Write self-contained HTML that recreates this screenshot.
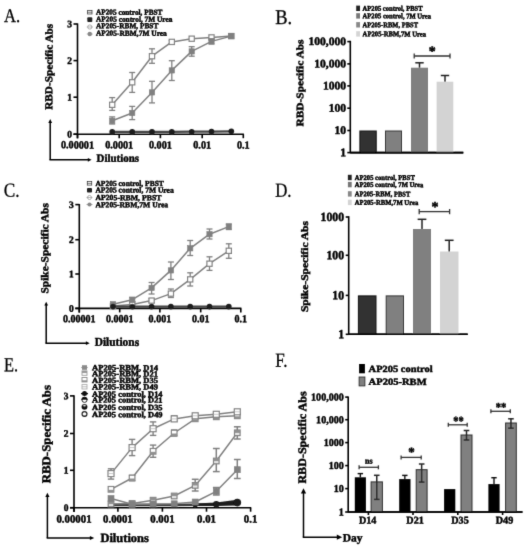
<!DOCTYPE html>
<html><head><meta charset="utf-8"><title>Figure</title>
<style>
html,body{margin:0;padding:0;background:#fff;}
svg{display:block;font-family:"Liberation Serif","DejaVu Serif",serif;}
</style></head>
<body>
<svg width="530" height="550" viewBox="0 0 530 550">
<defs><filter id="soft" filterUnits="userSpaceOnUse" x="0" y="0" width="530" height="550"><feConvolveMatrix order="3" kernelMatrix="0.01134 0.08382 0.01134 0.08382 0.61935 0.08382 0.01134 0.08382 0.01134" divisor="1" edgeMode="duplicate" preserveAlpha="false"/></filter></defs>
<rect x="0" y="0" width="530" height="550" fill="#ffffff"/>
<g filter="url(#soft)">
<text x="4.0" y="22.1" font-size="19.5" font-weight="normal" text-anchor="start" fill="#000" textLength="16.2" lengthAdjust="spacingAndGlyphs" stroke="#000" stroke-width="0.3" transform="matrix(1 0.002 0 1 0 -0.0080)" >A.</text>
<text x="96.0" y="14.6" font-size="7.6" font-weight="bold" text-anchor="start" fill="#000" textLength="66.4" lengthAdjust="spacingAndGlyphs" stroke="#000" stroke-width="0.45" transform="matrix(1 0.002 0 1 0 -0.1920)" >AP205 control, PBST</text>
<text x="96.0" y="21.6" font-size="7.6" font-weight="bold" text-anchor="start" fill="#000" textLength="76.4" lengthAdjust="spacingAndGlyphs" stroke="#000" stroke-width="0.45" transform="matrix(1 0.002 0 1 0 -0.1920)" >AP205 control, 7M Urea</text>
<text x="96.0" y="28.2" font-size="7.6" font-weight="bold" text-anchor="start" fill="#000" textLength="62.3" lengthAdjust="spacingAndGlyphs" stroke="#000" stroke-width="0.45" transform="matrix(1 0.002 0 1 0 -0.1920)" >AP205-RBM, PBST</text>
<text x="96.0" y="35.6" font-size="7.6" font-weight="bold" text-anchor="start" fill="#000" textLength="70.8" lengthAdjust="spacingAndGlyphs" stroke="#000" stroke-width="0.45" transform="matrix(1 0.002 0 1 0 -0.1920)" >AP205-RBM,7M Urea</text>
<rect x="87.60" y="10.40" width="4.40" height="3.60" fill="#fff" stroke="#333" stroke-width="0.8"/>
<line x1="87.6" y1="12.2" x2="92.0" y2="12.2" stroke="#333" stroke-width="0.7" />
<rect x="87.3" y="17.3" width="5.0" height="4.6" rx="0.9" fill="#222"/>
<circle cx="89.80" cy="27.00" r="2.1" fill="#fff" stroke="#999" stroke-width="0.8"/>
<line x1="86.8" y1="27.0" x2="92.8" y2="27.0" stroke="#999" stroke-width="0.7" />
<circle cx="89.80" cy="34.00" r="2.2" fill="#888" stroke="none" stroke-width="1"/>
<line x1="86.8" y1="34.0" x2="92.8" y2="34.0" stroke="#888" stroke-width="0.7" />
<line x1="77.5" y1="23.4" x2="77.5" y2="138.39999999999998" stroke="#000" stroke-width="1.6" />
<line x1="73.5" y1="134.2" x2="243.9" y2="134.2" stroke="#000" stroke-width="1.6" />
<line x1="73.5" y1="24.0" x2="77.5" y2="24.0" stroke="#000" stroke-width="1.6" />
<text x="71.9" y="27.3" font-size="10" font-weight="bold" text-anchor="end" fill="#000" textLength="4.75" lengthAdjust="spacingAndGlyphs" stroke="#000" stroke-width="0.45" transform="matrix(1 0.002 0 1 0 -0.1438)" >3</text>
<line x1="73.5" y1="60.6" x2="77.5" y2="60.6" stroke="#000" stroke-width="1.6" />
<text x="71.9" y="63.9" font-size="10" font-weight="bold" text-anchor="end" fill="#000" textLength="4.75" lengthAdjust="spacingAndGlyphs" stroke="#000" stroke-width="0.45" transform="matrix(1 0.002 0 1 0 -0.1438)" >2</text>
<line x1="73.5" y1="97.2" x2="77.5" y2="97.2" stroke="#000" stroke-width="1.6" />
<text x="71.9" y="100.5" font-size="10" font-weight="bold" text-anchor="end" fill="#000" textLength="4.75" lengthAdjust="spacingAndGlyphs" stroke="#000" stroke-width="0.45" transform="matrix(1 0.002 0 1 0 -0.1438)" >1</text>
<line x1="73.5" y1="134.2" x2="77.5" y2="134.2" stroke="#000" stroke-width="1.6" />
<text x="71.9" y="137.5" font-size="10" font-weight="bold" text-anchor="end" fill="#000" textLength="4.75" lengthAdjust="spacingAndGlyphs" stroke="#000" stroke-width="0.45" transform="matrix(1 0.002 0 1 0 -0.1438)" >0</text>
<line x1="77.5" y1="134.2" x2="77.5" y2="138.2" stroke="#000" stroke-width="1.6" />
<text x="77.5" y="148.4" font-size="10.8" font-weight="bold" text-anchor="middle" fill="#000" textLength="33.17" lengthAdjust="spacingAndGlyphs" stroke="#000" stroke-width="0.45" transform="matrix(1 0.002 0 1 0 -0.1550)" >0.00001</text>
<line x1="119.2" y1="134.2" x2="119.2" y2="138.2" stroke="#000" stroke-width="1.6" />
<text x="119.2" y="148.4" font-size="10.8" font-weight="bold" text-anchor="middle" fill="#000" textLength="28.07" lengthAdjust="spacingAndGlyphs" stroke="#000" stroke-width="0.45" transform="matrix(1 0.002 0 1 0 -0.2384)" >0.0001</text>
<line x1="160.4" y1="134.2" x2="160.4" y2="138.2" stroke="#000" stroke-width="1.6" />
<text x="160.4" y="148.4" font-size="10.8" font-weight="bold" text-anchor="middle" fill="#000" textLength="22.96" lengthAdjust="spacingAndGlyphs" stroke="#000" stroke-width="0.45" transform="matrix(1 0.002 0 1 0 -0.3208)" >0.001</text>
<line x1="202.2" y1="134.2" x2="202.2" y2="138.2" stroke="#000" stroke-width="1.6" />
<text x="202.2" y="148.4" font-size="10.8" font-weight="bold" text-anchor="middle" fill="#000" textLength="17.86" lengthAdjust="spacingAndGlyphs" stroke="#000" stroke-width="0.45" transform="matrix(1 0.002 0 1 0 -0.4044)" >0.01</text>
<line x1="243.3" y1="134.2" x2="243.3" y2="138.2" stroke="#000" stroke-width="1.6" />
<text x="243.3" y="148.4" font-size="10.8" font-weight="bold" text-anchor="middle" fill="#000" textLength="12.76" lengthAdjust="spacingAndGlyphs" stroke="#000" stroke-width="0.45" transform="matrix(1 0.002 0 1 0 -0.4866)" >0.1</text>
<text x="52.3" y="109.8" font-size="10.5" font-weight="bold" text-anchor="start" fill="#000" textLength="86" lengthAdjust="spacingAndGlyphs" stroke="#000" stroke-width="0.45" transform="rotate(-90 52.3 109.8) matrix(1 0.002 0 1 0 -0.1046)" >RBD-Specific Abs</text>
<line x1="50.2" y1="121.89999999999999" x2="50.2" y2="159.8" stroke="#000" stroke-width="1.5" />
<line x1="49.45" y1="159.8" x2="88.8" y2="159.8" stroke="#000" stroke-width="1.5" />
<polygon points="50.2,119.1 48.300000000000004,122.89999999999999 52.1,122.89999999999999" fill="#000"/>
<polygon points="91.6,159.8 87.8,157.9 87.8,161.70000000000002" fill="#000"/>
<text x="96.6" y="161.8" font-size="11" font-weight="bold" text-anchor="start" fill="#000" textLength="42.4" lengthAdjust="spacingAndGlyphs" stroke="#000" stroke-width="0.45" transform="matrix(1 0.002 0 1 0 -0.1932)" >Dilutions</text>
<polyline points="112.2,131.9 132.2,131.9 152.0,131.9 171.8,131.9 191.7,131.7 211.5,131.6 231.3,131.3" fill="none" stroke="#444" stroke-width="2.2" stroke-linejoin="round"/>
<circle cx="112.20" cy="131.90" r="2.8" fill="#1a1a1a" stroke="none" stroke-width="1"/>
<circle cx="132.20" cy="131.90" r="2.8" fill="#1a1a1a" stroke="none" stroke-width="1"/>
<circle cx="152.00" cy="131.90" r="2.8" fill="#1a1a1a" stroke="none" stroke-width="1"/>
<circle cx="171.80" cy="131.90" r="2.8" fill="#1a1a1a" stroke="none" stroke-width="1"/>
<circle cx="191.70" cy="131.70" r="2.8" fill="#1a1a1a" stroke="none" stroke-width="1"/>
<circle cx="211.50" cy="131.60" r="2.8" fill="#1a1a1a" stroke="none" stroke-width="1"/>
<circle cx="231.30" cy="131.30" r="2.8" fill="#1a1a1a" stroke="none" stroke-width="1"/>
<polyline points="112.2,104.8 132.2,82.3 152.0,56.2 171.8,41.9 191.7,38.7 211.5,37.4 231.3,36.1" fill="none" stroke="#808080" stroke-width="1.5" stroke-linejoin="round"/>
<line x1="112.2" y1="97.6" x2="112.2" y2="110.4" stroke="#808080" stroke-width="1.3" />
<line x1="109.2" y1="97.6" x2="115.2" y2="97.6" stroke="#808080" stroke-width="1.3" />
<line x1="109.2" y1="110.4" x2="115.2" y2="110.4" stroke="#808080" stroke-width="1.3" />
<line x1="132.2" y1="72.5" x2="132.2" y2="92.4" stroke="#808080" stroke-width="1.3" />
<line x1="129.2" y1="72.5" x2="135.2" y2="72.5" stroke="#808080" stroke-width="1.3" />
<line x1="129.2" y1="92.4" x2="135.2" y2="92.4" stroke="#808080" stroke-width="1.3" />
<line x1="152.0" y1="48.8" x2="152.0" y2="63.3" stroke="#808080" stroke-width="1.3" />
<line x1="149.0" y1="48.8" x2="155.0" y2="48.8" stroke="#808080" stroke-width="1.3" />
<line x1="149.0" y1="63.3" x2="155.0" y2="63.3" stroke="#808080" stroke-width="1.3" />
<line x1="171.8" y1="40.5" x2="171.8" y2="43.5" stroke="#808080" stroke-width="1.3" />
<line x1="168.8" y1="40.5" x2="174.8" y2="40.5" stroke="#808080" stroke-width="1.3" />
<line x1="168.8" y1="43.5" x2="174.8" y2="43.5" stroke="#808080" stroke-width="1.3" />
<rect x="109.60" y="102.20" width="5.20" height="5.20" fill="#fff" stroke="#808080" stroke-width="1.2"/>
<rect x="129.60" y="79.70" width="5.20" height="5.20" fill="#fff" stroke="#808080" stroke-width="1.2"/>
<rect x="149.40" y="53.60" width="5.20" height="5.20" fill="#fff" stroke="#808080" stroke-width="1.2"/>
<rect x="169.20" y="39.30" width="5.20" height="5.20" fill="#fff" stroke="#808080" stroke-width="1.2"/>
<rect x="189.10" y="36.10" width="5.20" height="5.20" fill="#fff" stroke="#808080" stroke-width="1.2"/>
<rect x="208.90" y="34.80" width="5.20" height="5.20" fill="#fff" stroke="#808080" stroke-width="1.2"/>
<rect x="228.70" y="33.50" width="5.20" height="5.20" fill="#fff" stroke="#808080" stroke-width="1.2"/>
<polyline points="112.2,120.8 132.2,113.0 152.0,92.4 171.8,70.4 191.7,51.4 211.5,41.4 231.3,36.1" fill="none" stroke="#808080" stroke-width="1.5" stroke-linejoin="round"/>
<line x1="112.2" y1="116.9" x2="112.2" y2="124.0" stroke="#808080" stroke-width="1.3" />
<line x1="109.2" y1="116.9" x2="115.2" y2="116.9" stroke="#808080" stroke-width="1.3" />
<line x1="109.2" y1="124.0" x2="115.2" y2="124.0" stroke="#808080" stroke-width="1.3" />
<line x1="132.2" y1="106.4" x2="132.2" y2="119.6" stroke="#808080" stroke-width="1.3" />
<line x1="129.2" y1="106.4" x2="135.2" y2="106.4" stroke="#808080" stroke-width="1.3" />
<line x1="129.2" y1="119.6" x2="135.2" y2="119.6" stroke="#808080" stroke-width="1.3" />
<line x1="152.0" y1="81.3" x2="152.0" y2="102.9" stroke="#808080" stroke-width="1.3" />
<line x1="149.0" y1="81.3" x2="155.0" y2="81.3" stroke="#808080" stroke-width="1.3" />
<line x1="149.0" y1="102.9" x2="155.0" y2="102.9" stroke="#808080" stroke-width="1.3" />
<line x1="171.8" y1="60.7" x2="171.8" y2="80.5" stroke="#808080" stroke-width="1.3" />
<line x1="168.8" y1="60.7" x2="174.8" y2="60.7" stroke="#808080" stroke-width="1.3" />
<line x1="168.8" y1="80.5" x2="174.8" y2="80.5" stroke="#808080" stroke-width="1.3" />
<line x1="191.7" y1="46.7" x2="191.7" y2="56.2" stroke="#808080" stroke-width="1.3" />
<line x1="188.7" y1="46.7" x2="194.7" y2="46.7" stroke="#808080" stroke-width="1.3" />
<line x1="188.7" y1="56.2" x2="194.7" y2="56.2" stroke="#808080" stroke-width="1.3" />
<line x1="211.5" y1="38.7" x2="211.5" y2="44.0" stroke="#808080" stroke-width="1.3" />
<line x1="208.5" y1="38.7" x2="214.5" y2="38.7" stroke="#808080" stroke-width="1.3" />
<line x1="208.5" y1="44.0" x2="214.5" y2="44.0" stroke="#808080" stroke-width="1.3" />
<rect x="109.55" y="118.15" width="5.30" height="5.30" fill="#808080" stroke="#808080" stroke-width="0.6"/>
<rect x="129.55" y="110.35" width="5.30" height="5.30" fill="#808080" stroke="#808080" stroke-width="0.6"/>
<rect x="149.35" y="89.75" width="5.30" height="5.30" fill="#808080" stroke="#808080" stroke-width="0.6"/>
<rect x="169.15" y="67.75" width="5.30" height="5.30" fill="#808080" stroke="#808080" stroke-width="0.6"/>
<rect x="189.05" y="48.75" width="5.30" height="5.30" fill="#808080" stroke="#808080" stroke-width="0.6"/>
<rect x="208.85" y="38.75" width="5.30" height="5.30" fill="#808080" stroke="#808080" stroke-width="0.6"/>
<rect x="228.65" y="33.45" width="5.30" height="5.30" fill="#808080" stroke="#808080" stroke-width="0.6"/>
<text x="3.7" y="196.7" font-size="20" font-weight="normal" text-anchor="start" fill="#000" textLength="15.8" lengthAdjust="spacingAndGlyphs" stroke="#000" stroke-width="0.3" transform="matrix(1 0.002 0 1 0 -0.0074)" >C.</text>
<text x="95.4" y="185.9" font-size="7.8" font-weight="bold" text-anchor="start" fill="#000" textLength="68.5" lengthAdjust="spacingAndGlyphs" stroke="#000" stroke-width="0.45" transform="matrix(1 0.002 0 1 0 -0.1908)" >AP205 control, PBST</text>
<text x="95.4" y="192.5" font-size="7.8" font-weight="bold" text-anchor="start" fill="#000" textLength="78.3" lengthAdjust="spacingAndGlyphs" stroke="#000" stroke-width="0.45" transform="matrix(1 0.002 0 1 0 -0.1908)" >AP205 control, 7M Urea</text>
<text x="95.4" y="200.1" font-size="7.8" font-weight="bold" text-anchor="start" fill="#000" textLength="66.0" lengthAdjust="spacingAndGlyphs" stroke="#000" stroke-width="0.45" transform="matrix(1 0.002 0 1 0 -0.1908)" >AP205-RBM, PBST</text>
<text x="95.4" y="207.2" font-size="7.8" font-weight="bold" text-anchor="start" fill="#000" textLength="72.8" lengthAdjust="spacingAndGlyphs" stroke="#000" stroke-width="0.45" transform="matrix(1 0.002 0 1 0 -0.1908)" >AP205-RBM,7M Urea</text>
<rect x="87.30" y="181.50" width="4.40" height="3.60" fill="#fff" stroke="#333" stroke-width="0.8"/>
<line x1="87.3" y1="183.3" x2="91.7" y2="183.3" stroke="#333" stroke-width="0.7" />
<rect x="87.0" y="187.89999999999998" width="5.0" height="4.6" rx="0.9" fill="#222"/>
<circle cx="89.50" cy="197.50" r="2.0" fill="#fff" stroke="#999" stroke-width="0.8"/>
<line x1="86.5" y1="197.5" x2="92.5" y2="197.5" stroke="#999" stroke-width="0.7" />
<circle cx="89.50" cy="204.50" r="2.1" fill="#888" stroke="none" stroke-width="1"/>
<line x1="86.5" y1="204.5" x2="92.5" y2="204.5" stroke="#888" stroke-width="0.7" />
<line x1="79.3" y1="204.0" x2="79.3" y2="312.59999999999997" stroke="#000" stroke-width="1.6" />
<line x1="75.3" y1="308.4" x2="241.4" y2="308.4" stroke="#000" stroke-width="1.6" />
<line x1="75.3" y1="204.6" x2="79.3" y2="204.6" stroke="#000" stroke-width="1.6" />
<text x="73.7" y="207.9" font-size="10" font-weight="bold" text-anchor="end" fill="#000" textLength="4.75" lengthAdjust="spacingAndGlyphs" stroke="#000" stroke-width="0.45" transform="matrix(1 0.002 0 1 0 -0.1474)" >3</text>
<line x1="75.3" y1="239.7" x2="79.3" y2="239.7" stroke="#000" stroke-width="1.6" />
<text x="73.7" y="243.0" font-size="10" font-weight="bold" text-anchor="end" fill="#000" textLength="4.75" lengthAdjust="spacingAndGlyphs" stroke="#000" stroke-width="0.45" transform="matrix(1 0.002 0 1 0 -0.1474)" >2</text>
<line x1="75.3" y1="274.0" x2="79.3" y2="274.0" stroke="#000" stroke-width="1.6" />
<text x="73.7" y="277.3" font-size="10" font-weight="bold" text-anchor="end" fill="#000" textLength="4.75" lengthAdjust="spacingAndGlyphs" stroke="#000" stroke-width="0.45" transform="matrix(1 0.002 0 1 0 -0.1474)" >1</text>
<line x1="75.3" y1="308.4" x2="79.3" y2="308.4" stroke="#000" stroke-width="1.6" />
<text x="73.7" y="311.7" font-size="10" font-weight="bold" text-anchor="end" fill="#000" textLength="4.75" lengthAdjust="spacingAndGlyphs" stroke="#000" stroke-width="0.45" transform="matrix(1 0.002 0 1 0 -0.1474)" >0</text>
<line x1="79.3" y1="308.4" x2="79.3" y2="312.4" stroke="#000" stroke-width="1.6" />
<text x="79.3" y="322.2" font-size="10.8" font-weight="bold" text-anchor="middle" fill="#000" textLength="32.64" lengthAdjust="spacingAndGlyphs" stroke="#000" stroke-width="0.45" transform="matrix(1 0.002 0 1 0 -0.1586)" >0.00001</text>
<line x1="119.7" y1="308.4" x2="119.7" y2="312.4" stroke="#000" stroke-width="1.6" />
<text x="119.7" y="322.2" font-size="10.8" font-weight="bold" text-anchor="middle" fill="#000" textLength="27.62" lengthAdjust="spacingAndGlyphs" stroke="#000" stroke-width="0.45" transform="matrix(1 0.002 0 1 0 -0.2394)" >0.0001</text>
<line x1="159.9" y1="308.4" x2="159.9" y2="312.4" stroke="#000" stroke-width="1.6" />
<text x="159.9" y="322.2" font-size="10.8" font-weight="bold" text-anchor="middle" fill="#000" textLength="22.6" lengthAdjust="spacingAndGlyphs" stroke="#000" stroke-width="0.45" transform="matrix(1 0.002 0 1 0 -0.3198)" >0.001</text>
<line x1="200.7" y1="308.4" x2="200.7" y2="312.4" stroke="#000" stroke-width="1.6" />
<text x="200.7" y="322.2" font-size="10.8" font-weight="bold" text-anchor="middle" fill="#000" textLength="17.58" lengthAdjust="spacingAndGlyphs" stroke="#000" stroke-width="0.45" transform="matrix(1 0.002 0 1 0 -0.4014)" >0.01</text>
<line x1="240.8" y1="308.4" x2="240.8" y2="312.4" stroke="#000" stroke-width="1.6" />
<text x="240.8" y="322.2" font-size="10.8" font-weight="bold" text-anchor="middle" fill="#000" textLength="12.56" lengthAdjust="spacingAndGlyphs" stroke="#000" stroke-width="0.45" transform="matrix(1 0.002 0 1 0 -0.4816)" >0.1</text>
<text x="48.2" y="293.5" font-size="10.5" font-weight="bold" text-anchor="start" fill="#000" textLength="90.4" lengthAdjust="spacingAndGlyphs" stroke="#000" stroke-width="0.45" transform="rotate(-90 48.2 293.5) matrix(1 0.002 0 1 0 -0.0964)" >Spike-Specific Abs</text>
<line x1="46.2" y1="304.6" x2="46.2" y2="343.2" stroke="#000" stroke-width="1.5" />
<line x1="45.45" y1="343.2" x2="86.9" y2="343.2" stroke="#000" stroke-width="1.5" />
<polygon points="46.2,301.8 44.300000000000004,305.6 48.1,305.6" fill="#000"/>
<polygon points="89.7,343.2 85.9,341.3 85.9,345.09999999999997" fill="#000"/>
<text x="94.7" y="345.8" font-size="12" font-weight="bold" text-anchor="start" fill="#000" textLength="44.4" lengthAdjust="spacingAndGlyphs" stroke="#000" stroke-width="0.45" transform="matrix(1 0.002 0 1 0 -0.1894)" >Dilutions</text>
<polyline points="113.0,306.0 132.3,304.4 151.6,300.6 170.9,293.6 190.2,279.4 209.5,263.7 228.8,250.8" fill="none" stroke="#808080" stroke-width="1.5" stroke-linejoin="round"/>
<line x1="151.6" y1="298.6" x2="151.6" y2="302.6" stroke="#808080" stroke-width="1.3" />
<line x1="148.6" y1="298.6" x2="154.6" y2="298.6" stroke="#808080" stroke-width="1.3" />
<line x1="148.6" y1="302.6" x2="154.6" y2="302.6" stroke="#808080" stroke-width="1.3" />
<line x1="170.9" y1="289.0" x2="170.9" y2="297.5" stroke="#808080" stroke-width="1.3" />
<line x1="167.9" y1="289.0" x2="173.9" y2="289.0" stroke="#808080" stroke-width="1.3" />
<line x1="167.9" y1="297.5" x2="173.9" y2="297.5" stroke="#808080" stroke-width="1.3" />
<line x1="190.2" y1="272.8" x2="190.2" y2="286.0" stroke="#808080" stroke-width="1.3" />
<line x1="187.2" y1="272.8" x2="193.2" y2="272.8" stroke="#808080" stroke-width="1.3" />
<line x1="187.2" y1="286.0" x2="193.2" y2="286.0" stroke="#808080" stroke-width="1.3" />
<line x1="209.5" y1="256.8" x2="209.5" y2="270.4" stroke="#808080" stroke-width="1.3" />
<line x1="206.5" y1="256.8" x2="212.5" y2="256.8" stroke="#808080" stroke-width="1.3" />
<line x1="206.5" y1="270.4" x2="212.5" y2="270.4" stroke="#808080" stroke-width="1.3" />
<line x1="228.8" y1="243.8" x2="228.8" y2="258.3" stroke="#808080" stroke-width="1.3" />
<line x1="225.8" y1="243.8" x2="231.8" y2="243.8" stroke="#808080" stroke-width="1.3" />
<line x1="225.8" y1="258.3" x2="231.8" y2="258.3" stroke="#808080" stroke-width="1.3" />
<rect x="110.40" y="303.40" width="5.20" height="5.20" fill="#fff" stroke="#808080" stroke-width="1.2"/>
<rect x="129.70" y="301.80" width="5.20" height="5.20" fill="#fff" stroke="#808080" stroke-width="1.2"/>
<rect x="149.00" y="298.00" width="5.20" height="5.20" fill="#fff" stroke="#808080" stroke-width="1.2"/>
<rect x="168.30" y="291.00" width="5.20" height="5.20" fill="#fff" stroke="#808080" stroke-width="1.2"/>
<rect x="187.60" y="276.80" width="5.20" height="5.20" fill="#fff" stroke="#808080" stroke-width="1.2"/>
<rect x="206.90" y="261.10" width="5.20" height="5.20" fill="#fff" stroke="#808080" stroke-width="1.2"/>
<rect x="226.20" y="248.20" width="5.20" height="5.20" fill="#fff" stroke="#808080" stroke-width="1.2"/>
<polyline points="113.0,304.2 132.3,299.7 151.6,287.9 170.9,270.4 190.2,248.3 209.5,234.2 228.8,226.6" fill="none" stroke="#808080" stroke-width="1.5" stroke-linejoin="round"/>
<line x1="132.3" y1="297.5" x2="132.3" y2="301.8" stroke="#808080" stroke-width="1.3" />
<line x1="129.3" y1="297.5" x2="135.3" y2="297.5" stroke="#808080" stroke-width="1.3" />
<line x1="129.3" y1="301.8" x2="135.3" y2="301.8" stroke="#808080" stroke-width="1.3" />
<line x1="151.6" y1="282.5" x2="151.6" y2="294.0" stroke="#808080" stroke-width="1.3" />
<line x1="148.6" y1="282.5" x2="154.6" y2="282.5" stroke="#808080" stroke-width="1.3" />
<line x1="148.6" y1="294.0" x2="154.6" y2="294.0" stroke="#808080" stroke-width="1.3" />
<line x1="170.9" y1="262.0" x2="170.9" y2="279.5" stroke="#808080" stroke-width="1.3" />
<line x1="167.9" y1="262.0" x2="173.9" y2="262.0" stroke="#808080" stroke-width="1.3" />
<line x1="167.9" y1="279.5" x2="173.9" y2="279.5" stroke="#808080" stroke-width="1.3" />
<line x1="190.2" y1="240.5" x2="190.2" y2="255.5" stroke="#808080" stroke-width="1.3" />
<line x1="187.2" y1="240.5" x2="193.2" y2="240.5" stroke="#808080" stroke-width="1.3" />
<line x1="187.2" y1="255.5" x2="193.2" y2="255.5" stroke="#808080" stroke-width="1.3" />
<line x1="209.5" y1="229.0" x2="209.5" y2="239.0" stroke="#808080" stroke-width="1.3" />
<line x1="206.5" y1="229.0" x2="212.5" y2="229.0" stroke="#808080" stroke-width="1.3" />
<line x1="206.5" y1="239.0" x2="212.5" y2="239.0" stroke="#808080" stroke-width="1.3" />
<line x1="228.8" y1="224.0" x2="228.8" y2="229.5" stroke="#808080" stroke-width="1.3" />
<line x1="225.8" y1="224.0" x2="231.8" y2="224.0" stroke="#808080" stroke-width="1.3" />
<line x1="225.8" y1="229.5" x2="231.8" y2="229.5" stroke="#808080" stroke-width="1.3" />
<rect x="110.35" y="301.55" width="5.30" height="5.30" fill="#808080" stroke="#808080" stroke-width="0.6"/>
<rect x="129.65" y="297.05" width="5.30" height="5.30" fill="#808080" stroke="#808080" stroke-width="0.6"/>
<rect x="148.95" y="285.25" width="5.30" height="5.30" fill="#808080" stroke="#808080" stroke-width="0.6"/>
<rect x="168.25" y="267.75" width="5.30" height="5.30" fill="#808080" stroke="#808080" stroke-width="0.6"/>
<rect x="187.55" y="245.65" width="5.30" height="5.30" fill="#808080" stroke="#808080" stroke-width="0.6"/>
<rect x="206.85" y="231.55" width="5.30" height="5.30" fill="#808080" stroke="#808080" stroke-width="0.6"/>
<rect x="226.15" y="223.95" width="5.30" height="5.30" fill="#808080" stroke="#808080" stroke-width="0.6"/>
<polyline points="113.0,306.6 132.3,306.6 151.6,306.6 170.9,306.6 190.2,306.6 209.5,306.6 228.8,306.6" fill="none" stroke="#444" stroke-width="2.2" stroke-linejoin="round"/>
<circle cx="113.00" cy="306.60" r="2.8" fill="#1a1a1a" stroke="none" stroke-width="1"/>
<circle cx="132.30" cy="306.60" r="2.8" fill="#1a1a1a" stroke="none" stroke-width="1"/>
<circle cx="151.60" cy="306.60" r="2.8" fill="#1a1a1a" stroke="none" stroke-width="1"/>
<circle cx="170.90" cy="306.60" r="2.8" fill="#1a1a1a" stroke="none" stroke-width="1"/>
<circle cx="190.20" cy="306.60" r="2.8" fill="#1a1a1a" stroke="none" stroke-width="1"/>
<circle cx="209.50" cy="306.60" r="2.8" fill="#1a1a1a" stroke="none" stroke-width="1"/>
<circle cx="228.80" cy="306.60" r="2.8" fill="#1a1a1a" stroke="none" stroke-width="1"/>
<text x="4.0" y="371.3" font-size="20" font-weight="normal" text-anchor="start" fill="#000" textLength="14.1" lengthAdjust="spacingAndGlyphs" stroke="#000" stroke-width="0.3" transform="matrix(1 0.002 0 1 0 -0.0080)" >E.</text>
<line x1="74.0" y1="395.29999999999995" x2="74.0" y2="511.9" stroke="#000" stroke-width="1.6" />
<line x1="70.0" y1="507.7" x2="251.2" y2="507.7" stroke="#000" stroke-width="1.6" />
<line x1="70.0" y1="395.9" x2="74.0" y2="395.9" stroke="#000" stroke-width="1.6" />
<text x="68.4" y="399.2" font-size="10" font-weight="bold" text-anchor="end" fill="#000" textLength="4.75" lengthAdjust="spacingAndGlyphs" stroke="#000" stroke-width="0.45" transform="matrix(1 0.002 0 1 0 -0.1368)" >3</text>
<line x1="70.0" y1="433.5" x2="74.0" y2="433.5" stroke="#000" stroke-width="1.6" />
<text x="68.4" y="436.8" font-size="10" font-weight="bold" text-anchor="end" fill="#000" textLength="4.75" lengthAdjust="spacingAndGlyphs" stroke="#000" stroke-width="0.45" transform="matrix(1 0.002 0 1 0 -0.1368)" >2</text>
<line x1="70.0" y1="470.3" x2="74.0" y2="470.3" stroke="#000" stroke-width="1.6" />
<text x="68.4" y="473.6" font-size="10" font-weight="bold" text-anchor="end" fill="#000" textLength="4.75" lengthAdjust="spacingAndGlyphs" stroke="#000" stroke-width="0.45" transform="matrix(1 0.002 0 1 0 -0.1368)" >1</text>
<line x1="70.0" y1="507.7" x2="74.0" y2="507.7" stroke="#000" stroke-width="1.6" />
<text x="68.4" y="511.0" font-size="10" font-weight="bold" text-anchor="end" fill="#000" textLength="4.75" lengthAdjust="spacingAndGlyphs" stroke="#000" stroke-width="0.45" transform="matrix(1 0.002 0 1 0 -0.1368)" >0</text>
<line x1="74.0" y1="507.7" x2="74.0" y2="511.7" stroke="#000" stroke-width="1.6" />
<text x="74.0" y="522.5" font-size="11" font-weight="bold" text-anchor="middle" fill="#000" textLength="35.03" lengthAdjust="spacingAndGlyphs" stroke="#000" stroke-width="0.45" transform="matrix(1 0.002 0 1 0 -0.1480)" >0.00001</text>
<line x1="117.9" y1="507.7" x2="117.9" y2="511.7" stroke="#000" stroke-width="1.6" />
<text x="117.9" y="522.5" font-size="11" font-weight="bold" text-anchor="middle" fill="#000" textLength="29.64" lengthAdjust="spacingAndGlyphs" stroke="#000" stroke-width="0.45" transform="matrix(1 0.002 0 1 0 -0.2358)" >0.0001</text>
<line x1="162.4" y1="507.7" x2="162.4" y2="511.7" stroke="#000" stroke-width="1.6" />
<text x="162.4" y="522.5" font-size="11" font-weight="bold" text-anchor="middle" fill="#000" textLength="24.25" lengthAdjust="spacingAndGlyphs" stroke="#000" stroke-width="0.45" transform="matrix(1 0.002 0 1 0 -0.3248)" >0.001</text>
<line x1="206.5" y1="507.7" x2="206.5" y2="511.7" stroke="#000" stroke-width="1.6" />
<text x="206.5" y="522.5" font-size="11" font-weight="bold" text-anchor="middle" fill="#000" textLength="18.86" lengthAdjust="spacingAndGlyphs" stroke="#000" stroke-width="0.45" transform="matrix(1 0.002 0 1 0 -0.4130)" >0.01</text>
<line x1="250.6" y1="507.7" x2="250.6" y2="511.7" stroke="#000" stroke-width="1.6" />
<text x="250.6" y="522.5" font-size="11" font-weight="bold" text-anchor="middle" fill="#000" textLength="13.47" lengthAdjust="spacingAndGlyphs" stroke="#000" stroke-width="0.45" transform="matrix(1 0.002 0 1 0 -0.5012)" >0.1</text>
<text x="50.3" y="483.3" font-size="12" font-weight="bold" text-anchor="start" fill="#000" textLength="98.3" lengthAdjust="spacingAndGlyphs" stroke="#000" stroke-width="0.45" transform="rotate(-90 50.3 483.3) matrix(1 0.002 0 1 0 -0.1006)" >RBD-Specific Abs</text>
<line x1="47.4" y1="496.1" x2="47.4" y2="538.0" stroke="#000" stroke-width="1.5" />
<line x1="46.65" y1="538.0" x2="90.9" y2="538.0" stroke="#000" stroke-width="1.5" />
<polygon points="47.4,492.8 45.3,497.1 49.5,497.1" fill="#000"/>
<polygon points="94.2,538.0 89.9,535.9 89.9,540.1" fill="#000"/>
<text x="100.4" y="541.9" font-size="12.5" font-weight="bold" text-anchor="start" fill="#000" textLength="48.5" lengthAdjust="spacingAndGlyphs" stroke="#000" stroke-width="0.45" transform="matrix(1 0.002 0 1 0 -0.2008)" >Dilutions</text>
<text x="92.1" y="370.3" font-size="8" font-weight="bold" text-anchor="start" fill="#000" textLength="66.0" lengthAdjust="spacingAndGlyphs" stroke="#000" stroke-width="0.45" transform="matrix(1 0.002 0 1 0 -0.1842)" >AP205-RBM, D14</text>
<text x="92.1" y="376.3" font-size="8" font-weight="bold" text-anchor="start" fill="#000" textLength="66.0" lengthAdjust="spacingAndGlyphs" stroke="#000" stroke-width="0.45" transform="matrix(1 0.002 0 1 0 -0.1842)" >AP205-RBM, D21</text>
<text x="92.1" y="382.9" font-size="8" font-weight="bold" text-anchor="start" fill="#000" textLength="66.0" lengthAdjust="spacingAndGlyphs" stroke="#000" stroke-width="0.45" transform="matrix(1 0.002 0 1 0 -0.1842)" >AP205-RBM, D35</text>
<text x="92.1" y="389.5" font-size="8" font-weight="bold" text-anchor="start" fill="#000" textLength="66.0" lengthAdjust="spacingAndGlyphs" stroke="#000" stroke-width="0.45" transform="matrix(1 0.002 0 1 0 -0.1842)" >AP205-RBM, D49</text>
<text x="92.1" y="396.7" font-size="8" font-weight="bold" text-anchor="start" fill="#000" textLength="70.5" lengthAdjust="spacingAndGlyphs" stroke="#000" stroke-width="0.45" transform="matrix(1 0.002 0 1 0 -0.1842)" >AP205 control, D14</text>
<text x="92.1" y="402.5" font-size="8" font-weight="bold" text-anchor="start" fill="#000" textLength="70.5" lengthAdjust="spacingAndGlyphs" stroke="#000" stroke-width="0.45" transform="matrix(1 0.002 0 1 0 -0.1842)" >AP205 control, D21</text>
<text x="92.1" y="410.0" font-size="8" font-weight="bold" text-anchor="start" fill="#000" textLength="70.5" lengthAdjust="spacingAndGlyphs" stroke="#000" stroke-width="0.45" transform="matrix(1 0.002 0 1 0 -0.1842)" >AP205 control, D35</text>
<text x="92.1" y="417.1" font-size="8" font-weight="bold" text-anchor="start" fill="#000" textLength="70.5" lengthAdjust="spacingAndGlyphs" stroke="#000" stroke-width="0.45" transform="matrix(1 0.002 0 1 0 -0.1842)" >AP205 control, D49</text>
<rect x="82.00" y="365.20" width="5.00" height="4.60" fill="#8a8a8a" stroke="none" stroke-width="1"/>
<line x1="81.3" y1="367.5" x2="87.7" y2="367.5" stroke="#8a8a8a" stroke-width="0.9" />
<rect x="82.00" y="370.90" width="5.00" height="4.40" fill="#fff" stroke="#999" stroke-width="0.9"/>
<rect x="82.00" y="370.90" width="5.00" height="2.20" fill="#999" stroke="none" stroke-width="1"/>
<rect x="82.00" y="377.50" width="5.00" height="4.40" fill="#fff" stroke="#909090" stroke-width="1.0"/>
<rect x="82.00" y="380.30" width="5.00" height="1.60" fill="#909090" stroke="none" stroke-width="1"/>
<rect x="82.00" y="384.60" width="5.00" height="4.40" fill="#fff" stroke="#aaa" stroke-width="0.9"/>
<line x1="82.0" y1="386.8" x2="87.0" y2="386.8" stroke="#aaa" stroke-width="0.8" />
<circle cx="84.50" cy="393.60" r="2.5" fill="#111" stroke="none" stroke-width="1"/>
<line x1="81.0" y1="393.6" x2="88.0" y2="393.6" stroke="#111" stroke-width="1.3" />
<circle cx="84.50" cy="399.80" r="2.6" fill="#fff" stroke="#111" stroke-width="1.0"/>
<path d="M81.5,400.1 A3.0,3.0 0 0 1 87.5,400.1 Z" fill="#111"/>
<circle cx="84.50" cy="406.80" r="2.9" fill="#111" stroke="none" stroke-width="1"/>
<ellipse cx="84.5" cy="405.8" rx="1.4" ry="0.8" fill="#ddd"/>
<circle cx="84.50" cy="413.90" r="2.3" fill="#fff" stroke="#111" stroke-width="1.4"/>
<polyline points="111.0,505.0 132.1,505.0 153.1,505.0 174.2,505.0 195.2,504.8 216.3,504.2 237.3,502.6" fill="none" stroke="#3a3a3a" stroke-width="2.4" stroke-linejoin="round"/>
<polygon points="195.2,503.6 216.3,502.59999999999997 237.3,499.8 237.3,505.40000000000003 216.3,506.0 195.2,506.0" fill="#1a1a1a"/>
<circle cx="111.00" cy="505.00" r="2.5" fill="#1a1a1a" stroke="none" stroke-width="1"/>
<circle cx="132.10" cy="505.00" r="2.5" fill="#1a1a1a" stroke="none" stroke-width="1"/>
<circle cx="153.10" cy="505.00" r="2.5" fill="#1a1a1a" stroke="none" stroke-width="1"/>
<circle cx="174.20" cy="505.00" r="2.5" fill="#1a1a1a" stroke="none" stroke-width="1"/>
<circle cx="195.20" cy="504.80" r="2.7" fill="#1a1a1a" stroke="none" stroke-width="1"/>
<circle cx="216.30" cy="504.20" r="3.2" fill="#1a1a1a" stroke="none" stroke-width="1"/>
<circle cx="237.30" cy="502.60" r="3.8" fill="#1a1a1a" stroke="none" stroke-width="1"/>
<polyline points="111.0,504.0 132.1,503.5 153.1,500.2 174.2,496.0 195.2,485.4 216.3,461.0 237.3,432.8" fill="none" stroke="#808080" stroke-width="1.5" stroke-linejoin="round"/>
<line x1="195.2" y1="479.3" x2="195.2" y2="491.0" stroke="#808080" stroke-width="1.5" />
<line x1="191.79999999999998" y1="479.3" x2="198.6" y2="479.3" stroke="#808080" stroke-width="1.5" />
<line x1="191.79999999999998" y1="491.0" x2="198.6" y2="491.0" stroke="#808080" stroke-width="1.5" />
<line x1="216.3" y1="448.5" x2="216.3" y2="471.6" stroke="#808080" stroke-width="1.5" />
<line x1="212.9" y1="448.5" x2="219.70000000000002" y2="448.5" stroke="#808080" stroke-width="1.5" />
<line x1="212.9" y1="471.6" x2="219.70000000000002" y2="471.6" stroke="#808080" stroke-width="1.5" />
<line x1="237.3" y1="426.8" x2="237.3" y2="439.0" stroke="#808080" stroke-width="1.5" />
<line x1="233.9" y1="426.8" x2="240.70000000000002" y2="426.8" stroke="#808080" stroke-width="1.5" />
<line x1="233.9" y1="439.0" x2="240.70000000000002" y2="439.0" stroke="#808080" stroke-width="1.5" />
<rect x="108.20" y="501.20" width="5.60" height="5.60" fill="#e4e4e4" stroke="#808080" stroke-width="1.2"/>
<rect x="108.20" y="501.20" width="5.60" height="2.90" fill="#909090" stroke="none" stroke-width="1"/>
<rect x="129.30" y="500.70" width="5.60" height="5.60" fill="#e4e4e4" stroke="#808080" stroke-width="1.2"/>
<rect x="129.30" y="500.70" width="5.60" height="2.90" fill="#909090" stroke="none" stroke-width="1"/>
<rect x="150.30" y="497.40" width="5.60" height="5.60" fill="#e4e4e4" stroke="#808080" stroke-width="1.2"/>
<rect x="150.30" y="497.40" width="5.60" height="2.90" fill="#909090" stroke="none" stroke-width="1"/>
<rect x="171.40" y="493.20" width="5.60" height="5.60" fill="#e4e4e4" stroke="#808080" stroke-width="1.2"/>
<rect x="171.40" y="493.20" width="5.60" height="2.90" fill="#909090" stroke="none" stroke-width="1"/>
<rect x="192.40" y="482.60" width="5.60" height="5.60" fill="#e4e4e4" stroke="#808080" stroke-width="1.2"/>
<rect x="192.40" y="482.60" width="5.60" height="2.90" fill="#909090" stroke="none" stroke-width="1"/>
<rect x="213.50" y="458.20" width="5.60" height="5.60" fill="#e4e4e4" stroke="#808080" stroke-width="1.2"/>
<rect x="213.50" y="458.20" width="5.60" height="2.90" fill="#909090" stroke="none" stroke-width="1"/>
<rect x="234.50" y="430.00" width="5.60" height="5.60" fill="#e4e4e4" stroke="#808080" stroke-width="1.2"/>
<rect x="234.50" y="430.00" width="5.60" height="2.90" fill="#909090" stroke="none" stroke-width="1"/>
<polyline points="111.0,498.5 132.1,504.3 153.1,504.0 174.2,503.8 195.2,502.0 216.3,491.3 237.3,469.7" fill="none" stroke="#808080" stroke-width="1.5" stroke-linejoin="round"/>
<line x1="216.3" y1="487.5" x2="216.3" y2="495.0" stroke="#808080" stroke-width="1.5" />
<line x1="212.9" y1="487.5" x2="219.70000000000002" y2="487.5" stroke="#808080" stroke-width="1.5" />
<line x1="212.9" y1="495.0" x2="219.70000000000002" y2="495.0" stroke="#808080" stroke-width="1.5" />
<line x1="237.3" y1="459.5" x2="237.3" y2="478.5" stroke="#808080" stroke-width="1.5" />
<line x1="233.9" y1="459.5" x2="240.70000000000002" y2="459.5" stroke="#808080" stroke-width="1.5" />
<line x1="233.9" y1="478.5" x2="240.70000000000002" y2="478.5" stroke="#808080" stroke-width="1.5" />
<rect x="108.00" y="495.50" width="6.00" height="6.00" fill="#808080" stroke="#808080" stroke-width="0.6"/>
<rect x="129.10" y="501.30" width="6.00" height="6.00" fill="#808080" stroke="#808080" stroke-width="0.6"/>
<rect x="150.10" y="501.00" width="6.00" height="6.00" fill="#808080" stroke="#808080" stroke-width="0.6"/>
<rect x="171.20" y="500.80" width="6.00" height="6.00" fill="#808080" stroke="#808080" stroke-width="0.6"/>
<rect x="192.20" y="499.00" width="6.00" height="6.00" fill="#808080" stroke="#808080" stroke-width="0.6"/>
<rect x="213.30" y="488.30" width="6.00" height="6.00" fill="#808080" stroke="#808080" stroke-width="0.6"/>
<rect x="234.30" y="466.70" width="6.00" height="6.00" fill="#808080" stroke="#808080" stroke-width="0.6"/>
<polyline points="111.0,489.3 132.1,478.0 153.1,451.3 174.2,433.0 195.2,418.8 216.3,416.8 237.3,415.8" fill="none" stroke="#808080" stroke-width="1.5" stroke-linejoin="round"/>
<line x1="132.1" y1="475.4" x2="132.1" y2="480.6" stroke="#808080" stroke-width="1.4" />
<line x1="128.9" y1="475.4" x2="135.29999999999998" y2="475.4" stroke="#808080" stroke-width="1.4" />
<line x1="128.9" y1="480.6" x2="135.29999999999998" y2="480.6" stroke="#808080" stroke-width="1.4" />
<line x1="153.1" y1="445.1" x2="153.1" y2="457.3" stroke="#808080" stroke-width="1.4" />
<line x1="149.9" y1="445.1" x2="156.29999999999998" y2="445.1" stroke="#808080" stroke-width="1.4" />
<line x1="149.9" y1="457.3" x2="156.29999999999998" y2="457.3" stroke="#808080" stroke-width="1.4" />
<line x1="174.2" y1="430.0" x2="174.2" y2="436.0" stroke="#808080" stroke-width="1.4" />
<line x1="171.0" y1="430.0" x2="177.39999999999998" y2="430.0" stroke="#808080" stroke-width="1.4" />
<line x1="171.0" y1="436.0" x2="177.39999999999998" y2="436.0" stroke="#808080" stroke-width="1.4" />
<rect x="108.20" y="486.50" width="5.60" height="5.60" fill="#fff" stroke="#808080" stroke-width="1.2"/>
<rect x="108.20" y="489.80" width="5.60" height="2.30" fill="#909090" stroke="none" stroke-width="1"/>
<rect x="129.30" y="475.20" width="5.60" height="5.60" fill="#fff" stroke="#808080" stroke-width="1.2"/>
<rect x="129.30" y="478.50" width="5.60" height="2.30" fill="#909090" stroke="none" stroke-width="1"/>
<rect x="150.30" y="448.50" width="5.60" height="5.60" fill="#fff" stroke="#808080" stroke-width="1.2"/>
<rect x="150.30" y="451.80" width="5.60" height="2.30" fill="#909090" stroke="none" stroke-width="1"/>
<rect x="171.40" y="430.20" width="5.60" height="5.60" fill="#fff" stroke="#808080" stroke-width="1.2"/>
<rect x="171.40" y="433.50" width="5.60" height="2.30" fill="#909090" stroke="none" stroke-width="1"/>
<rect x="192.40" y="416.00" width="5.60" height="5.60" fill="#fff" stroke="#808080" stroke-width="1.2"/>
<rect x="192.40" y="419.30" width="5.60" height="2.30" fill="#909090" stroke="none" stroke-width="1"/>
<rect x="213.50" y="414.00" width="5.60" height="5.60" fill="#fff" stroke="#808080" stroke-width="1.2"/>
<rect x="213.50" y="417.30" width="5.60" height="2.30" fill="#909090" stroke="none" stroke-width="1"/>
<rect x="234.50" y="413.00" width="5.60" height="5.60" fill="#fff" stroke="#808080" stroke-width="1.2"/>
<rect x="234.50" y="416.30" width="5.60" height="2.30" fill="#909090" stroke="none" stroke-width="1"/>
<polyline points="111.0,473.6 132.1,447.6 153.1,428.7 174.2,418.9 195.2,415.8 216.3,414.3 237.3,411.8" fill="none" stroke="#808080" stroke-width="1.5" stroke-linejoin="round"/>
<line x1="111.0" y1="468.8" x2="111.0" y2="479.1" stroke="#808080" stroke-width="1.4" />
<line x1="107.8" y1="468.8" x2="114.2" y2="468.8" stroke="#808080" stroke-width="1.4" />
<line x1="107.8" y1="479.1" x2="114.2" y2="479.1" stroke="#808080" stroke-width="1.4" />
<line x1="132.1" y1="439.4" x2="132.1" y2="455.6" stroke="#808080" stroke-width="1.4" />
<line x1="128.9" y1="439.4" x2="135.29999999999998" y2="439.4" stroke="#808080" stroke-width="1.4" />
<line x1="128.9" y1="455.6" x2="135.29999999999998" y2="455.6" stroke="#808080" stroke-width="1.4" />
<line x1="153.1" y1="421.9" x2="153.1" y2="435.4" stroke="#808080" stroke-width="1.4" />
<line x1="149.9" y1="421.9" x2="156.29999999999998" y2="421.9" stroke="#808080" stroke-width="1.4" />
<line x1="149.9" y1="435.4" x2="156.29999999999998" y2="435.4" stroke="#808080" stroke-width="1.4" />
<line x1="174.2" y1="415.8" x2="174.2" y2="420.8" stroke="#808080" stroke-width="1.4" />
<line x1="171.0" y1="415.8" x2="177.39999999999998" y2="415.8" stroke="#808080" stroke-width="1.4" />
<line x1="171.0" y1="420.8" x2="177.39999999999998" y2="420.8" stroke="#808080" stroke-width="1.4" />
<rect x="108.00" y="470.60" width="6.00" height="6.00" fill="#fff" stroke="#808080" stroke-width="1.2"/>
<line x1="108.0" y1="473.6" x2="114.0" y2="473.6" stroke="#b0b0b0" stroke-width="0.7" />
<rect x="129.10" y="444.60" width="6.00" height="6.00" fill="#fff" stroke="#808080" stroke-width="1.2"/>
<line x1="129.1" y1="447.6" x2="135.1" y2="447.6" stroke="#b0b0b0" stroke-width="0.7" />
<rect x="150.10" y="425.70" width="6.00" height="6.00" fill="#fff" stroke="#808080" stroke-width="1.2"/>
<line x1="150.1" y1="428.7" x2="156.1" y2="428.7" stroke="#b0b0b0" stroke-width="0.7" />
<rect x="171.20" y="415.90" width="6.00" height="6.00" fill="#fff" stroke="#808080" stroke-width="1.2"/>
<line x1="171.2" y1="418.9" x2="177.2" y2="418.9" stroke="#b0b0b0" stroke-width="0.7" />
<rect x="192.20" y="412.80" width="6.00" height="6.00" fill="#fff" stroke="#808080" stroke-width="1.2"/>
<line x1="192.2" y1="415.8" x2="198.2" y2="415.8" stroke="#b0b0b0" stroke-width="0.7" />
<rect x="213.30" y="411.30" width="6.00" height="6.00" fill="#fff" stroke="#808080" stroke-width="1.2"/>
<line x1="213.3" y1="414.3" x2="219.3" y2="414.3" stroke="#b0b0b0" stroke-width="0.7" />
<rect x="234.30" y="408.80" width="6.00" height="6.00" fill="#fff" stroke="#808080" stroke-width="1.2"/>
<line x1="234.3" y1="411.8" x2="240.3" y2="411.8" stroke="#b0b0b0" stroke-width="0.7" />
<text x="275.2" y="24.0" font-size="21" font-weight="normal" text-anchor="start" fill="#000" textLength="17.0" lengthAdjust="spacingAndGlyphs" stroke="#000" stroke-width="0.3" transform="matrix(1 0.002 0 1 0 -0.5504)" >B.</text>
<text x="362.6" y="10.7" font-size="7.2" font-weight="bold" text-anchor="start" fill="#000" textLength="60.0" lengthAdjust="spacingAndGlyphs" stroke="#000" stroke-width="0.45" transform="matrix(1 0.002 0 1 0 -0.7252)" >AP205 control, PBST</text>
<rect x="356.20" y="5.60" width="3.80" height="5.40" fill="#222" stroke="none" stroke-width="1"/>
<text x="362.6" y="18.3" font-size="7.2" font-weight="bold" text-anchor="start" fill="#000" textLength="68.5" lengthAdjust="spacingAndGlyphs" stroke="#000" stroke-width="0.45" transform="matrix(1 0.002 0 1 0 -0.7252)" >AP205 control, 7M Urea</text>
<rect x="356.20" y="13.20" width="3.80" height="5.40" fill="#777" stroke="none" stroke-width="1"/>
<text x="362.6" y="27.2" font-size="7.2" font-weight="bold" text-anchor="start" fill="#000" textLength="55.5" lengthAdjust="spacingAndGlyphs" stroke="#000" stroke-width="0.45" transform="matrix(1 0.002 0 1 0 -0.7252)" >AP205-RBM, PBST</text>
<rect x="356.20" y="22.10" width="3.80" height="5.40" fill="#888" stroke="none" stroke-width="1"/>
<text x="362.6" y="36.3" font-size="7.2" font-weight="bold" text-anchor="start" fill="#000" textLength="63.5" lengthAdjust="spacingAndGlyphs" stroke="#000" stroke-width="0.45" transform="matrix(1 0.002 0 1 0 -0.7252)" >AP205-RBM,7M Urea</text>
<rect x="356.20" y="31.20" width="3.80" height="5.40" fill="#d4d4d4" stroke="none" stroke-width="1"/>
<line x1="350.3" y1="40.8" x2="350.3" y2="153.2" stroke="#000" stroke-width="1.6" />
<line x1="350.3" y1="152.6" x2="463.3" y2="152.6" stroke="#000" stroke-width="1.6" />
<line x1="347.3" y1="41.6" x2="350.3" y2="41.6" stroke="#000" stroke-width="1.6" />
<text x="346.1" y="45.2" font-size="11.6" font-weight="bold" text-anchor="end" fill="#000" textLength="37.7" lengthAdjust="spacingAndGlyphs" stroke="#000" stroke-width="0.45" transform="matrix(1 0.002 0 1 0 -0.6922)" >100,000</text>
<line x1="347.3" y1="63.9" x2="350.3" y2="63.9" stroke="#000" stroke-width="1.6" />
<text x="346.1" y="67.5" font-size="11.6" font-weight="bold" text-anchor="end" fill="#000" textLength="31.9" lengthAdjust="spacingAndGlyphs" stroke="#000" stroke-width="0.45" transform="matrix(1 0.002 0 1 0 -0.6922)" >10,000</text>
<line x1="347.3" y1="85.9" x2="350.3" y2="85.9" stroke="#000" stroke-width="1.6" />
<text x="346.1" y="89.5" font-size="11.6" font-weight="bold" text-anchor="end" fill="#000" textLength="23.2" lengthAdjust="spacingAndGlyphs" stroke="#000" stroke-width="0.45" transform="matrix(1 0.002 0 1 0 -0.6922)" >1000</text>
<line x1="347.3" y1="108.2" x2="350.3" y2="108.2" stroke="#000" stroke-width="1.6" />
<text x="346.1" y="111.8" font-size="11.6" font-weight="bold" text-anchor="end" fill="#000" textLength="17.4" lengthAdjust="spacingAndGlyphs" stroke="#000" stroke-width="0.45" transform="matrix(1 0.002 0 1 0 -0.6922)" >100</text>
<line x1="347.3" y1="130.5" x2="350.3" y2="130.5" stroke="#000" stroke-width="1.6" />
<text x="346.1" y="134.1" font-size="11.6" font-weight="bold" text-anchor="end" fill="#000" textLength="11.6" lengthAdjust="spacingAndGlyphs" stroke="#000" stroke-width="0.45" transform="matrix(1 0.002 0 1 0 -0.6922)" >10</text>
<line x1="347.3" y1="152.6" x2="350.3" y2="152.6" stroke="#000" stroke-width="1.6" />
<text x="346.1" y="156.2" font-size="11.6" font-weight="bold" text-anchor="end" fill="#000" textLength="5.8" lengthAdjust="spacingAndGlyphs" stroke="#000" stroke-width="0.45" transform="matrix(1 0.002 0 1 0 -0.6922)" >1</text>
<text x="303.2" y="126.5" font-size="10" font-weight="bold" text-anchor="start" fill="#000" textLength="87" lengthAdjust="spacingAndGlyphs" stroke="#000" stroke-width="0.45" transform="rotate(-90 303.2 126.5) matrix(1 0.002 0 1 0 -0.6064)" >RBD-Specific Abs</text>
<rect x="359.90" y="131.00" width="16.30" height="21.60" fill="#333" stroke="none" stroke-width="1"/>
<rect x="385.50" y="131.00" width="16.00" height="21.60" fill="#808080" stroke="none" stroke-width="1"/>
<rect x="411.00" y="67.70" width="17.00" height="84.90" fill="#808080" stroke="none" stroke-width="1"/>
<rect x="436.60" y="81.70" width="16.70" height="70.90" fill="#d3d3d3" stroke="none" stroke-width="1"/>
<rect x="385.50" y="131.00" width="16.00" height="21.60" fill="none" stroke="#333" stroke-width="1.0"/>
<rect x="359.90" y="131.00" width="16.30" height="21.60" fill="none" stroke="#111" stroke-width="1.0"/>
<line x1="419.5" y1="62.8" x2="419.5" y2="67.7" stroke="#222" stroke-width="1.5" />
<line x1="415.3" y1="62.8" x2="423.7" y2="62.8" stroke="#222" stroke-width="1.5" />
<line x1="445.0" y1="75.5" x2="445.0" y2="81.7" stroke="#222" stroke-width="1.5" />
<line x1="440.8" y1="75.5" x2="449.2" y2="75.5" stroke="#222" stroke-width="1.5" />
<line x1="350.3" y1="152.6" x2="463.3" y2="152.6" stroke="#000" stroke-width="1.6" />
<line x1="414.2" y1="56.0" x2="450.0" y2="56.0" stroke="#333" stroke-width="1.3" />
<line x1="414.2" y1="53.4" x2="414.2" y2="58.6" stroke="#333" stroke-width="1.3" />
<line x1="450.0" y1="53.4" x2="450.0" y2="58.6" stroke="#333" stroke-width="1.3" />
<text x="432.3" y="55.8" font-size="14" font-weight="bold" text-anchor="middle" fill="#000" stroke="#000" stroke-width="0.45" transform="matrix(1 0.002 0 1 0 -0.8646)" >*</text>
<text x="275.2" y="196.7" font-size="20" font-weight="normal" text-anchor="start" fill="#000" textLength="16.4" lengthAdjust="spacingAndGlyphs" stroke="#000" stroke-width="0.3" transform="matrix(1 0.002 0 1 0 -0.5504)" >D.</text>
<text x="354.8" y="179.9" font-size="7.2" font-weight="bold" text-anchor="start" fill="#000" textLength="60.0" lengthAdjust="spacingAndGlyphs" stroke="#000" stroke-width="0.45" transform="matrix(1 0.002 0 1 0 -0.7096)" >AP205 control, PBST</text>
<rect x="347.90" y="174.80" width="3.80" height="5.40" fill="#222" stroke="none" stroke-width="1"/>
<text x="354.8" y="187.0" font-size="7.2" font-weight="bold" text-anchor="start" fill="#000" textLength="68.5" lengthAdjust="spacingAndGlyphs" stroke="#000" stroke-width="0.45" transform="matrix(1 0.002 0 1 0 -0.7096)" >AP205 control, 7M Urea</text>
<rect x="347.90" y="181.90" width="3.80" height="5.40" fill="#777" stroke="none" stroke-width="1"/>
<text x="354.8" y="196.3" font-size="7.2" font-weight="bold" text-anchor="start" fill="#000" textLength="55.5" lengthAdjust="spacingAndGlyphs" stroke="#000" stroke-width="0.45" transform="matrix(1 0.002 0 1 0 -0.7096)" >AP205-RBM, PBST</text>
<rect x="347.90" y="191.20" width="3.80" height="5.40" fill="#888" stroke="none" stroke-width="1"/>
<text x="354.8" y="204.8" font-size="7.2" font-weight="bold" text-anchor="start" fill="#000" textLength="63.5" lengthAdjust="spacingAndGlyphs" stroke="#000" stroke-width="0.45" transform="matrix(1 0.002 0 1 0 -0.7096)" >AP205-RBM,7M Urea</text>
<rect x="347.90" y="199.70" width="3.80" height="5.40" fill="#d4d4d4" stroke="none" stroke-width="1"/>
<line x1="348.7" y1="216.20000000000002" x2="348.7" y2="334.90000000000003" stroke="#000" stroke-width="1.6" />
<line x1="348.7" y1="334.3" x2="467.7" y2="334.3" stroke="#000" stroke-width="1.6" />
<line x1="345.7" y1="217.0" x2="348.7" y2="217.0" stroke="#000" stroke-width="1.6" />
<text x="344.09999999999997" y="221.0" font-size="12.5" font-weight="bold" text-anchor="end" fill="#000" textLength="23.5" lengthAdjust="spacingAndGlyphs" stroke="#000" stroke-width="0.45" transform="matrix(1 0.002 0 1 0 -0.6882)" >1000</text>
<line x1="345.7" y1="255.3" x2="348.7" y2="255.3" stroke="#000" stroke-width="1.6" />
<text x="344.09999999999997" y="259.3" font-size="12.5" font-weight="bold" text-anchor="end" fill="#000" textLength="17.62" lengthAdjust="spacingAndGlyphs" stroke="#000" stroke-width="0.45" transform="matrix(1 0.002 0 1 0 -0.6882)" >100</text>
<line x1="345.7" y1="295.4" x2="348.7" y2="295.4" stroke="#000" stroke-width="1.6" />
<text x="344.09999999999997" y="299.4" font-size="12.5" font-weight="bold" text-anchor="end" fill="#000" textLength="11.75" lengthAdjust="spacingAndGlyphs" stroke="#000" stroke-width="0.45" transform="matrix(1 0.002 0 1 0 -0.6882)" >10</text>
<line x1="345.7" y1="334.3" x2="348.7" y2="334.3" stroke="#000" stroke-width="1.6" />
<text x="344.09999999999997" y="338.3" font-size="12.5" font-weight="bold" text-anchor="end" fill="#000" textLength="5.88" lengthAdjust="spacingAndGlyphs" stroke="#000" stroke-width="0.45" transform="matrix(1 0.002 0 1 0 -0.6882)" >1</text>
<text x="307.9" y="312.1" font-size="10" font-weight="bold" text-anchor="start" fill="#000" textLength="91" lengthAdjust="spacingAndGlyphs" stroke="#000" stroke-width="0.45" transform="rotate(-90 307.9 312.1) matrix(1 0.002 0 1 0 -0.6158)" >Spike-Specific Abs</text>
<rect x="358.40" y="295.90" width="17.60" height="38.40" fill="#333" stroke="none" stroke-width="1"/>
<rect x="386.20" y="295.90" width="17.30" height="38.40" fill="#808080" stroke="none" stroke-width="1"/>
<rect x="413.00" y="229.00" width="18.00" height="105.30" fill="#808080" stroke="none" stroke-width="1"/>
<rect x="440.00" y="251.50" width="18.50" height="82.80" fill="#d3d3d3" stroke="none" stroke-width="1"/>
<rect x="386.20" y="295.90" width="17.30" height="38.40" fill="none" stroke="#333" stroke-width="1.0"/>
<rect x="358.40" y="295.90" width="17.60" height="38.40" fill="none" stroke="#111" stroke-width="1.0"/>
<line x1="422.0" y1="219.3" x2="422.0" y2="229.0" stroke="#222" stroke-width="1.5" />
<line x1="417.6" y1="219.3" x2="426.4" y2="219.3" stroke="#222" stroke-width="1.5" />
<line x1="449.2" y1="240.3" x2="449.2" y2="251.5" stroke="#222" stroke-width="1.5" />
<line x1="444.8" y1="240.3" x2="453.59999999999997" y2="240.3" stroke="#222" stroke-width="1.5" />
<line x1="348.7" y1="334.3" x2="467.7" y2="334.3" stroke="#000" stroke-width="1.6" />
<line x1="419.2" y1="211.6" x2="449.6" y2="211.6" stroke="#333" stroke-width="1.3" />
<line x1="419.2" y1="209.0" x2="419.2" y2="214.2" stroke="#333" stroke-width="1.3" />
<line x1="449.6" y1="209.0" x2="449.6" y2="214.2" stroke="#333" stroke-width="1.3" />
<text x="435.0" y="211.3" font-size="14" font-weight="bold" text-anchor="middle" fill="#000" stroke="#000" stroke-width="0.45" transform="matrix(1 0.002 0 1 0 -0.8700)" >*</text>
<text x="275.2" y="366.7" font-size="20" font-weight="normal" text-anchor="start" fill="#000" textLength="12.4" lengthAdjust="spacingAndGlyphs" stroke="#000" stroke-width="0.3" transform="matrix(1 0.002 0 1 0 -0.5504)" >F.</text>
<rect x="359.10" y="364.00" width="5.80" height="9.30" fill="#000" stroke="none" stroke-width="1"/>
<rect x="359.10" y="377.00" width="5.80" height="8.90" fill="#808080" stroke="#2a2a2a" stroke-width="0.9"/>
<text x="368.6" y="372.0" font-size="9.5" font-weight="bold" text-anchor="start" fill="#000" textLength="64.0" lengthAdjust="spacingAndGlyphs" stroke="#000" stroke-width="0.45" transform="matrix(1 0.002 0 1 0 -0.7372)" >AP205 control</text>
<text x="368.6" y="384.8" font-size="9.5" font-weight="bold" text-anchor="start" fill="#000" textLength="58.0" lengthAdjust="spacingAndGlyphs" stroke="#000" stroke-width="0.45" transform="matrix(1 0.002 0 1 0 -0.7372)" >AP205-RBM</text>
<line x1="348.2" y1="396.5" x2="348.2" y2="512.6" stroke="#000" stroke-width="1.6" />
<line x1="348.2" y1="512.0" x2="522.5" y2="512.0" stroke="#000" stroke-width="1.6" />
<line x1="345.2" y1="397.1" x2="348.2" y2="397.1" stroke="#000" stroke-width="1.6" />
<text x="343.8" y="400.6" font-size="10.6" font-weight="bold" text-anchor="end" fill="#000" textLength="32.73" lengthAdjust="spacingAndGlyphs" stroke="#000" stroke-width="0.45" transform="matrix(1 0.002 0 1 0 -0.6876)" >100,000</text>
<line x1="345.2" y1="419.7" x2="348.2" y2="419.7" stroke="#000" stroke-width="1.6" />
<text x="343.8" y="423.2" font-size="10.6" font-weight="bold" text-anchor="end" fill="#000" textLength="27.69" lengthAdjust="spacingAndGlyphs" stroke="#000" stroke-width="0.45" transform="matrix(1 0.002 0 1 0 -0.6876)" >10,000</text>
<line x1="345.2" y1="442.6" x2="348.2" y2="442.6" stroke="#000" stroke-width="1.6" />
<text x="343.8" y="446.1" font-size="10.6" font-weight="bold" text-anchor="end" fill="#000" textLength="20.14" lengthAdjust="spacingAndGlyphs" stroke="#000" stroke-width="0.45" transform="matrix(1 0.002 0 1 0 -0.6876)" >1000</text>
<line x1="345.2" y1="465.6" x2="348.2" y2="465.6" stroke="#000" stroke-width="1.6" />
<text x="343.8" y="469.1" font-size="10.6" font-weight="bold" text-anchor="end" fill="#000" textLength="15.11" lengthAdjust="spacingAndGlyphs" stroke="#000" stroke-width="0.45" transform="matrix(1 0.002 0 1 0 -0.6876)" >100</text>
<line x1="345.2" y1="488.6" x2="348.2" y2="488.6" stroke="#000" stroke-width="1.6" />
<text x="343.8" y="492.1" font-size="10.6" font-weight="bold" text-anchor="end" fill="#000" textLength="10.07" lengthAdjust="spacingAndGlyphs" stroke="#000" stroke-width="0.45" transform="matrix(1 0.002 0 1 0 -0.6876)" >10</text>
<line x1="345.2" y1="512.0" x2="348.2" y2="512.0" stroke="#000" stroke-width="1.6" />
<text x="343.8" y="515.5" font-size="10.6" font-weight="bold" text-anchor="end" fill="#000" textLength="5.03" lengthAdjust="spacingAndGlyphs" stroke="#000" stroke-width="0.45" transform="matrix(1 0.002 0 1 0 -0.6876)" >1</text>
<text x="306.0" y="483.6" font-size="11.5" font-weight="bold" text-anchor="start" fill="#000" textLength="92.2" lengthAdjust="spacingAndGlyphs" stroke="#000" stroke-width="0.45" transform="rotate(-90 306.0 483.6) matrix(1 0.002 0 1 0 -0.6120)" >RBD-Specific Abs</text>
<line x1="303.5" y1="492.59999999999997" x2="303.5" y2="537.2" stroke="#000" stroke-width="1.5" />
<line x1="302.75" y1="537.2" x2="337.8" y2="537.2" stroke="#000" stroke-width="1.5" />
<polygon points="303.5,488.2 300.9,493.59999999999997 306.1,493.59999999999997" fill="#000"/>
<polygon points="342.2,537.2 336.8,534.6 336.8,539.8000000000001" fill="#000"/>
<text x="342.8" y="541.5" font-size="11.3" font-weight="bold" text-anchor="start" fill="#000" textLength="19.7" lengthAdjust="spacingAndGlyphs" stroke="#000" stroke-width="0.45" transform="matrix(1 0.002 0 1 0 -0.6856)" >Day</text>
<rect x="354.80" y="477.30" width="11.10" height="34.70" fill="#000" stroke="none" stroke-width="1"/>
<rect x="371.10" y="481.90" width="11.30" height="30.10" fill="#808080" stroke="#2a2a2a" stroke-width="1.0"/>
<line x1="360.35" y1="473.6" x2="360.35" y2="477.3" stroke="#111" stroke-width="1.4" />
<line x1="357.65000000000003" y1="473.6" x2="363.05" y2="473.6" stroke="#111" stroke-width="1.4" />
<line x1="376.75" y1="475.3" x2="376.75" y2="499.4" stroke="#262626" stroke-width="1.5" />
<line x1="373.95" y1="475.3" x2="379.55" y2="475.3" stroke="#262626" stroke-width="1.5" />
<line x1="373.95" y1="499.4" x2="379.55" y2="499.4" stroke="#262626" stroke-width="1.5" />
<line x1="368.4" y1="512.0" x2="368.4" y2="515.0" stroke="#000" stroke-width="1.6" />
<text x="367.7" y="523.5" font-size="10.3" font-weight="bold" text-anchor="middle" fill="#000" textLength="17.5" lengthAdjust="spacingAndGlyphs" stroke="#000" stroke-width="0.45" transform="matrix(1 0.002 0 1 0 -0.7354)" >D14</text>
<rect x="399.20" y="479.10" width="11.30" height="32.90" fill="#000" stroke="none" stroke-width="1"/>
<rect x="416.20" y="469.70" width="10.90" height="42.30" fill="#808080" stroke="#2a2a2a" stroke-width="1.0"/>
<line x1="404.85" y1="475.4" x2="404.85" y2="479.1" stroke="#111" stroke-width="1.4" />
<line x1="402.15000000000003" y1="475.4" x2="407.55" y2="475.4" stroke="#111" stroke-width="1.4" />
<line x1="421.65" y1="464.0" x2="421.65" y2="482.1" stroke="#262626" stroke-width="1.5" />
<line x1="418.84999999999997" y1="464.0" x2="424.45" y2="464.0" stroke="#262626" stroke-width="1.5" />
<line x1="418.84999999999997" y1="482.1" x2="424.45" y2="482.1" stroke="#262626" stroke-width="1.5" />
<line x1="413.0" y1="512.0" x2="413.0" y2="515.0" stroke="#000" stroke-width="1.6" />
<text x="415.1" y="523.5" font-size="10.3" font-weight="bold" text-anchor="middle" fill="#000" textLength="17.5" lengthAdjust="spacingAndGlyphs" stroke="#000" stroke-width="0.45" transform="matrix(1 0.002 0 1 0 -0.8302)" >D21</text>
<rect x="444.10" y="489.10" width="11.20" height="22.90" fill="#000" stroke="none" stroke-width="1"/>
<rect x="461.00" y="435.00" width="11.00" height="77.00" fill="#808080" stroke="#2a2a2a" stroke-width="1.0"/>
<line x1="466.5" y1="430.5" x2="466.5" y2="440.0" stroke="#262626" stroke-width="1.5" />
<line x1="463.7" y1="430.5" x2="469.3" y2="430.5" stroke="#262626" stroke-width="1.5" />
<line x1="463.7" y1="440.0" x2="469.3" y2="440.0" stroke="#262626" stroke-width="1.5" />
<line x1="457.8" y1="512.0" x2="457.8" y2="515.0" stroke="#000" stroke-width="1.6" />
<text x="460.0" y="523.5" font-size="10.3" font-weight="bold" text-anchor="middle" fill="#000" textLength="17.5" lengthAdjust="spacingAndGlyphs" stroke="#000" stroke-width="0.45" transform="matrix(1 0.002 0 1 0 -0.9200)" >D35</text>
<rect x="488.40" y="484.10" width="11.20" height="27.90" fill="#000" stroke="none" stroke-width="1"/>
<rect x="505.60" y="423.00" width="10.70" height="89.00" fill="#808080" stroke="#2a2a2a" stroke-width="1.0"/>
<line x1="494.0" y1="477.7" x2="494.0" y2="484.1" stroke="#111" stroke-width="1.4" />
<line x1="491.3" y1="477.7" x2="496.7" y2="477.7" stroke="#111" stroke-width="1.4" />
<line x1="510.95" y1="418.8" x2="510.95" y2="428.2" stroke="#262626" stroke-width="1.5" />
<line x1="508.15" y1="418.8" x2="513.75" y2="418.8" stroke="#262626" stroke-width="1.5" />
<line x1="508.15" y1="428.2" x2="513.75" y2="428.2" stroke="#262626" stroke-width="1.5" />
<line x1="502.6" y1="512.0" x2="502.6" y2="515.0" stroke="#000" stroke-width="1.6" />
<text x="504.5" y="523.5" font-size="10.3" font-weight="bold" text-anchor="middle" fill="#000" textLength="17.5" lengthAdjust="spacingAndGlyphs" stroke="#000" stroke-width="0.45" transform="matrix(1 0.002 0 1 0 -1.0090)" >D49</text>
<line x1="348.2" y1="512.0" x2="522.5" y2="512.0" stroke="#000" stroke-width="1.6" />
<line x1="359.1" y1="467.3" x2="378.4" y2="467.3" stroke="#333" stroke-width="1.3" />
<line x1="359.1" y1="465.3" x2="359.1" y2="469.3" stroke="#333" stroke-width="1.3" />
<line x1="378.4" y1="465.3" x2="378.4" y2="469.3" stroke="#333" stroke-width="1.3" />
<text x="368.8" y="463.4" font-size="8" font-weight="bold" text-anchor="middle" fill="#000" textLength="7.6" lengthAdjust="spacingAndGlyphs" stroke="#000" stroke-width="0.45" transform="matrix(1 0.002 0 1 0 -0.7376)" >ns</text>
<line x1="401.1" y1="457.4" x2="421.2" y2="457.4" stroke="#333" stroke-width="1.3" />
<line x1="401.1" y1="455.4" x2="401.1" y2="459.4" stroke="#333" stroke-width="1.3" />
<line x1="421.2" y1="455.4" x2="421.2" y2="459.4" stroke="#333" stroke-width="1.3" />
<text x="411.4" y="456.3" font-size="13" font-weight="bold" text-anchor="middle" fill="#000" stroke="#000" stroke-width="0.45" transform="matrix(1 0.002 0 1 0 -0.8228)" >*</text>
<line x1="448.3" y1="424.8" x2="467.2" y2="424.8" stroke="#333" stroke-width="1.3" />
<line x1="448.3" y1="422.8" x2="448.3" y2="426.8" stroke="#333" stroke-width="1.3" />
<line x1="467.2" y1="422.8" x2="467.2" y2="426.8" stroke="#333" stroke-width="1.3" />
<text x="458.4" y="425.2" font-size="13" font-weight="bold" text-anchor="middle" fill="#000" textLength="10.5" lengthAdjust="spacingAndGlyphs" stroke="#000" stroke-width="0.45" transform="matrix(1 0.002 0 1 0 -0.9168)" >**</text>
<line x1="490.9" y1="411.3" x2="510.3" y2="411.3" stroke="#333" stroke-width="1.3" />
<line x1="490.9" y1="409.3" x2="490.9" y2="413.3" stroke="#333" stroke-width="1.3" />
<line x1="510.3" y1="409.3" x2="510.3" y2="413.3" stroke="#333" stroke-width="1.3" />
<text x="501.0" y="411.4" font-size="13" font-weight="bold" text-anchor="middle" fill="#000" textLength="10.5" lengthAdjust="spacingAndGlyphs" stroke="#000" stroke-width="0.45" transform="matrix(1 0.002 0 1 0 -1.0020)" >**</text>
</g>
</svg>
</body></html>
